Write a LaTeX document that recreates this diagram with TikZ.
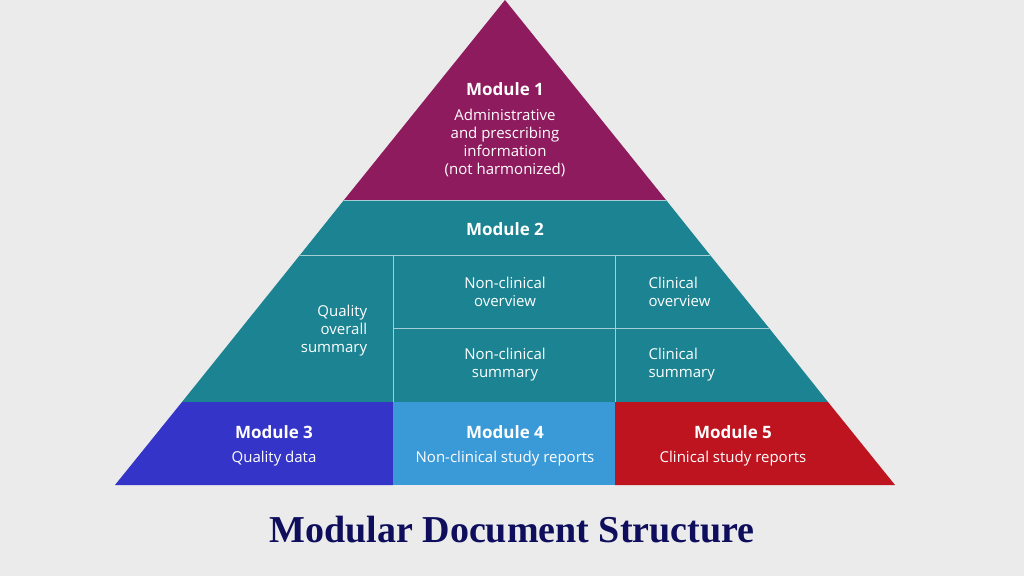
\documentclass[tikz,border=0pt]{standalone}
\usepackage{fontspec}
\setmainfont{Liberation Serif}
\newfontfamily\osans{Open Sans}
\begin{document}
\begin{tikzpicture}[x=1pt,y=-1pt,
  lbl/.style={text=white,font=\osans\fontsize{15}{18}\selectfont,align=center},
  hd/.style={text=white,font=\osans\fontsize{17}{19}\selectfont\bfseries,align=center}]
\definecolor{bg}{HTML}{EBEBEB}
\definecolor{mone}{HTML}{8E1B5E}
\definecolor{mtwo}{HTML}{1B8391}
\definecolor{mthree}{HTML}{3434C8}
\definecolor{mfour}{HTML}{3A9AD8}
\definecolor{mfive}{HTML}{BE1420}
\definecolor{ttl}{HTML}{0E0E5C}
\fill[bg] (0,0) rectangle (1024,576);
\useasboundingbox (0,0) rectangle (1024,576);
% module 1
\fill[mone] (505,0) -- (666,200) -- (344,200) -- cycle;
% module 2 band
\fill[mtwo] (344,200) -- (666,200) -- (710,255) -- (300,255) -- cycle;
\fill[mtwo] (300,255) -- (393,255) -- (393,402) -- (182,402) -- cycle;
\fill[mtwo] (393,255) rectangle (615,328);
\fill[mtwo] (393,328) rectangle (615,402);
\fill[mtwo] (615,255) -- (710,255) -- (769,328) -- (615,328) -- cycle;
\fill[mtwo] (615,328) -- (769,328) -- (828,402) -- (615,402) -- cycle;
\draw[white!60!mtwo,line width=1pt] (300,255)--(710,255) (393,255)--(393,402) (615,255)--(615,402) (393,328)--(769,328) (344,200)--(666,200);
% base
\fill[mthree] (182,402) -- (393,402) -- (393,485) -- (115,485) -- cycle;
\fill[mfour] (393,402) rectangle (615,485);
\fill[mfive] (615,402) -- (828,402) -- (895,485) -- (615,485) -- cycle;
% labels
\node[hd] (m1) at (505,89) {Module 1};
\node[lbl] (m1t) at (505,143) {Administrative\\and prescribing\\information\\(not harmonized)};
\node[hd] (m2) at (505,229) {Module 2};
\node[lbl,align=right] (q) at (334,331) {Quality\\overall\\summary};
\node[lbl] (nco) at (505,292) {Non-clinical\\overview};
\node[lbl] (ncs) at (505,365) {Non-clinical\\summary};
\node[lbl,align=left,anchor=west] (co) at (645,292) {Clinical\\overview};
\node[lbl,align=left,anchor=west] (cs) at (645,365) {Clinical\\summary};
\node[hd] (m3) at (274,432) {Module 3};
\node[lbl] (m3t) at (274,459) {Quality data};
\node[hd] (m4) at (505,432) {Module 4};
\node[lbl] (m4t) at (505,459) {Non-clinical study reports};
\node[hd] (m5) at (733,432) {Module 5};
\node[lbl] (m5t) at (733,459) {Clinical study reports};
\node[text=ttl,font=\fontsize{38}{42}\selectfont\bfseries] (t) at (512,530) {Modular Document Structure};
\end{tikzpicture}
\end{document}
